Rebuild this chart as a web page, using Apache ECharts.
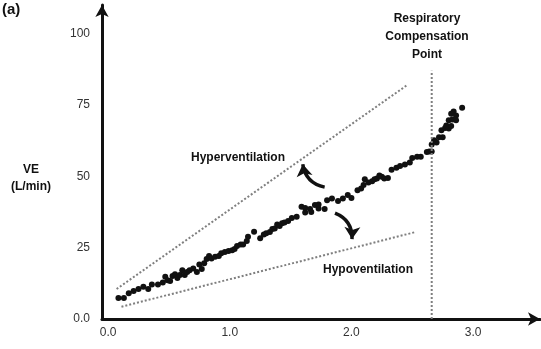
<!DOCTYPE html>
<html>
<head>
<meta charset="utf-8">
<script src="https://cdn.jsdelivr.net/npm/echarts@6/dist/echarts.min.js"></script>
<style>
html, body { margin: 0; padding: 0; background: #fff; }
#chart { width: 541px; height: 349px; }
</style>
</head>
<body>
<div id="chart"></div>
<script>
// measured points (x = work / VO2 axis, y = VE L/min)
var pointX = [0.085, 0.13, 0.17, 0.21, 0.25, 0.29, 0.33, 0.36, 0.41, 0.45, 0.47, 0.49, 0.51, 0.53, 0.55, 0.57, 0.59, 0.61, 0.63, 0.65,
    0.67, 0.70, 0.73, 0.75, 0.77, 0.79, 0.81, 0.83, 0.85, 0.88, 0.91, 0.93, 0.96, 0.99, 1.02, 1.04, 1.06, 1.09, 1.11, 1.14,
    1.15, 1.20, 1.25, 1.28, 1.30, 1.33, 1.35, 1.37, 1.39, 1.41, 1.43, 1.45, 1.48, 1.51, 1.55, 1.59, 1.62, 1.62, 1.66, 1.67,
    1.70, 1.73, 1.73, 1.78, 1.80, 1.84, 1.89, 1.93, 1.97, 2.00, 2.05, 2.08, 2.10, 2.11, 2.14, 2.17, 2.19, 2.21, 2.23, 2.25,
    2.27, 2.30, 2.33, 2.37, 2.40, 2.44, 2.48, 2.50, 2.54, 2.57, 2.62, 2.64, 2.66, 2.66, 2.68, 2.70, 2.72, 2.74, 2.75, 2.77,
    2.78, 2.80, 2.80, 2.82, 2.82, 2.83, 2.84, 2.86, 2.86, 2.91];
var pointY = [7.4, 7.4, 9.0, 9.8, 10.5, 11.3, 10.5, 12.1, 12.1, 12.8, 14.8, 13.6, 13.3, 15.1, 15.7, 14.4, 15.4, 17.1, 15.4, 16.5,
    17.1, 17.7, 16.5, 19.1, 17.5, 19.5, 21.0, 22.1, 21.2, 21.8, 22.1, 23.0, 23.5, 23.8, 24.1, 24.5, 25.6, 26.1, 26.1, 27.3,
    28.8, 30.6, 28.3, 29.6, 30.0, 30.5, 31.5, 31.7, 33.1, 32.6, 33.5, 33.8, 34.3, 35.4, 35.8, 39.3, 38.9, 37.3, 38.5, 37.5,
    39.9, 38.7, 40.1, 38.5, 41.6, 42.2, 41.3, 42.2, 43.4, 42.4, 45.1, 45.7, 46.9, 49.0, 47.8, 48.3, 49.0, 49.2, 50.3, 49.8,
    49.2, 49.4, 52.3, 53.0, 53.6, 54.1, 54.8, 56.4, 56.8, 56.8, 58.5, 58.7, 58.7, 61.1, 62.6, 61.8, 63.7, 66.1, 63.7, 66.9,
    67.8, 66.7, 69.6, 67.6, 71.9, 69.9, 72.7, 71.3, 69.6, 74.0];

// reference lines
var hyperLine = [[0.07, 10.5], [2.46, 82]];
var hypoLine = [[0.11, 4.3], [2.53, 30.5]];
var rcpLine = [[2.66, 0], [2.66, 87]];
var xTicks = [0, 1, 2, 3];
var yTicks = [0, 25, 50, 75, 100];

var points = [];
for (var i = 0; i < pointX.length; ++i) {
    points.push([pointX[i], pointY[i]]);
}

var FONT = 'Liberation Sans';
var chart = echarts.init(document.getElementById('chart'));

function dotted(data) {
    return {
        type: 'line',
        data: data,
        symbol: 'none',
        silent: true,
        lineStyle: { color: '#7f7f7f', width: 2, type: [2, 2] }
    };
}

var option = {
    animation: false,
    grid: { left: 102, right: 1, top: 5, bottom: 30 },
    xAxis: {
        type: 'value',
        min: -0.05,
        max: 3.55,
        splitLine: { show: false },
        axisTick: { show: false },
        axisLine: {
            onZero: false,
            symbol: ['none', 'arrow'],
            symbolSize: [10, 12],
            lineStyle: { color: '#111', width: 3 }
        },
        axisLabel: {
            customValues: xTicks,
            margin: 8,
            color: '#333',
            fontFamily: FONT,
            fontSize: 12,
            formatter: function (v) { return v.toFixed(1); }
        }
    },
    yAxis: {
        type: 'value',
        min: 0,
        max: 110,
        splitLine: { show: false },
        axisTick: { show: false },
        axisLine: {
            onZero: false,
            symbol: ['none', 'arrow'],
            symbolSize: [10, 12],
            lineStyle: { color: '#111', width: 3 }
        },
        axisLabel: {
            customValues: yTicks,
            margin: 12,
            color: '#333',
            fontFamily: FONT,
            fontSize: 12,
            formatter: function (v) { return v === 0 ? '0.0' : String(v); }
        }
    },
    series: [
        dotted(hyperLine),
        dotted(hypoLine),
        dotted(rcpLine),
        {
            type: 'scatter',
            data: points,
            symbolSize: 6,
            itemStyle: { color: '#111', opacity: 1 }
        },
        {
            type: 'lines',
            coordinateSystem: 'cartesian2d',
            symbol: ['none', 'arrow'],
            symbolSize: 12,
            lineStyle: { color: '#111', width: 3.5, curveness: 0.35, opacity: 1 },
            data: [
                { coords: [[1.78, 46.2], [1.60, 54.2]] },
                { coords: [[1.865, 37.1], [2.005, 28.0]] }
            ]
        }
    ],
    graphic: [
        { type: 'text', left: 2, top: 2, style: { text: '(a)', font: 'bold 15px ' + FONT, fill: '#111' } },
        { type: 'text', x: 31, y: 178, style: { text: 'VE\n(L/min)', font: 'bold 12px ' + FONT, fill: '#111', align: 'center', verticalAlign: 'middle', lineHeight: 17 } },
        { type: 'text', x: 427, y: 37, style: { text: 'Respiratory\nCompensation\nPoint', font: 'bold 12px ' + FONT, fill: '#111', align: 'center', verticalAlign: 'middle', lineHeight: 18 } },
        { type: 'text', x: 238, y: 158, style: { text: 'Hyperventilation', font: 'bold 12px ' + FONT, fill: '#111', align: 'center', verticalAlign: 'middle' } },
        { type: 'text', x: 368, y: 270, style: { text: 'Hypoventilation', font: 'bold 12px ' + FONT, fill: '#111', align: 'center', verticalAlign: 'middle' } }
    ]
};
chart.setOption(option);
</script>
</body>
</html>
